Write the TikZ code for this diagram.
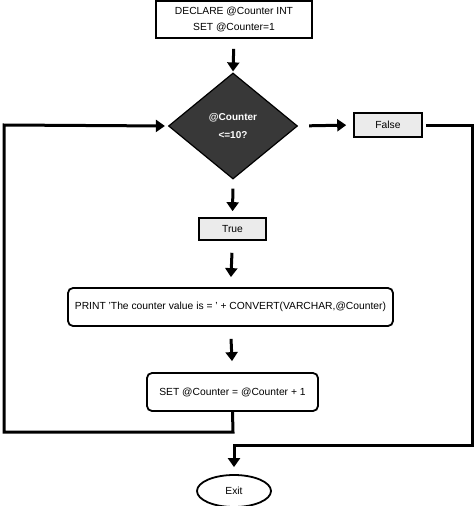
\documentclass[tikz,border=0pt]{standalone}
\usepackage{fontspec}
\setmainfont{Liberation Sans}
\usetikzlibrary{shapes.geometric,arrows.meta}
\begin{document}
\begin{tikzpicture}[x=1pt,y=-1pt,
  font=\fontsize{10.3}{16}\selectfont,
  box/.style={draw=black,line width=1.8pt,fill=white,inner sep=0pt,align=center},
  rbox/.style={box,rounded corners=5pt},
  gbox/.style={box,line width=1.6pt,fill=black!8},
  conn/.style={line width=3pt,draw=black},
  arr/.style={conn,-{Triangle[length=9pt,width=12pt]}}
]
\useasboundingbox (0,0) rectangle (474,506);
\node[box,minimum width=156pt,minimum height=37pt] (init) at (234,19.5) {DECLARE @Counter INT\\SET @Counter=1};
\node[diamond,draw=black,line width=1.2pt,fill=black!78,text=white,inner sep=0pt,minimum width=129pt,minimum height=106pt,align=center,font=\fontsize{10}{18}\selectfont\bfseries] (dia) at (233,126) {@Counter\\<=10?};
\node[gbox,minimum width=68pt,minimum height=24pt] (false) at (388,125) {False};
\node[gbox,minimum width=67pt,minimum height=22pt] (true) at (232.5,229) {True};
\node[rbox,minimum width=325pt,minimum height=38pt] (print) at (230.5,307) {PRINT 'The counter value is = ' + CONVERT(VARCHAR,@Counter)};
\node[rbox,minimum width=171pt,minimum height=38pt] (set) at (232.5,392) {SET @Counter = @Counter + 1};
\node[ellipse,draw=black,line width=1.8pt,fill=white,minimum width=74pt,minimum height=32pt,inner sep=0pt] (exit) at (234,491) {Exit};
\coordinate (r1) at (472,125);
\coordinate (r2) at (472,445);
\coordinate (l0) at (233,432);
\coordinate (l1) at (4,432);
\coordinate (l2) at (4,125);
\draw[arr,shorten <=10pt,shorten >=1pt] (init.south) -- (dia.north);
\draw[arr,shorten <=9pt,shorten >=6pt] (dia.south) -- (true.north);
\draw[arr,shorten <=12pt,shorten >=10pt] (true.south) -- (print.north);
\draw[arr,shorten <=12pt,shorten >=11pt] (print.south) -- (set.north);
\draw[arr,shorten <=11pt,shorten >=7pt] (dia.east) -- (false.west);
\draw[arr,shorten <=3pt,shorten >=7pt,line join=miter] (false.east) -- (r1) -- (r2) -| (exit.north);
\draw[arr,shorten >=3pt,line join=miter] (set.south) -- (l0) -- (l1) -- (l2) -- (dia.west);
\end{tikzpicture}
\end{document}
